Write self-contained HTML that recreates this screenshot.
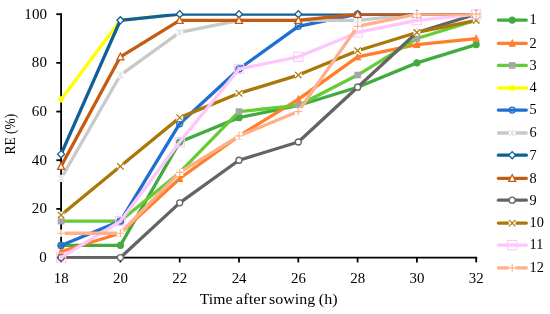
<!DOCTYPE html>
<html><head><meta charset="utf-8"><title>RE chart</title>
<style>html,body{margin:0;padding:0;background:#fff}svg{display:block}</style>
</head><body>
<svg width="550" height="314" viewBox="0 0 550 314">
<rect width="550" height="314" fill="#fff"/>
<defs><clipPath id="pc"><rect x="59.5" y="13.4" width="420" height="245.4"/></clipPath><clipPath id="pc4"><rect x="59.5" y="14.6" width="420" height="244"/></clipPath></defs>
<g stroke="#000" stroke-width="1.8" fill="none" stroke-linecap="butt">
<path d="M61.10 13.30V258.50"/>
<path d="M60.20 257.60H477.10"/>
<path d="M56.30 257.60H61.10"/>
<path d="M56.30 208.92H61.10"/>
<path d="M56.30 160.24H61.10"/>
<path d="M56.30 111.56H61.10"/>
<path d="M56.30 62.88H61.10"/>
<path d="M56.30 14.20H61.10"/>
<path d="M61.10 257.60V262.40"/>
<path d="M120.40 257.60V262.40"/>
<path d="M179.70 257.60V262.40"/>
<path d="M239.00 257.60V262.40"/>
<path d="M298.30 257.60V262.40"/>
<path d="M357.60 257.60V262.40"/>
<path d="M416.90 257.60V262.40"/>
<path d="M476.20 257.60V262.40"/>
</g>
<polyline clip-path="url(#pc)" points="61.10,245.43 120.40,245.43 179.70,141.99 239.00,117.65 298.30,105.48 357.60,87.22 416.90,62.88 476.20,44.62" fill="none" stroke="#41ab3f" stroke-width="3.3" stroke-linejoin="round" stroke-linecap="round"/>
<circle cx="61.10" cy="245.43" r="3.6" fill="#41ab3f"/>
<circle cx="120.40" cy="245.43" r="3.6" fill="#41ab3f"/>
<circle cx="179.70" cy="141.99" r="3.6" fill="#41ab3f"/>
<circle cx="239.00" cy="117.65" r="3.6" fill="#41ab3f"/>
<circle cx="298.30" cy="105.48" r="3.6" fill="#41ab3f"/>
<circle cx="357.60" cy="87.22" r="3.6" fill="#41ab3f"/>
<circle cx="416.90" cy="62.88" r="3.6" fill="#41ab3f"/>
<circle cx="476.20" cy="44.62" r="3.6" fill="#41ab3f"/>
<polyline clip-path="url(#pc)" points="61.10,251.52 120.40,233.26 179.70,178.50 239.00,135.90 298.30,99.39 357.60,56.80 416.90,44.62 476.20,38.54" fill="none" stroke="#ff7f2a" stroke-width="3.3" stroke-linejoin="round" stroke-linecap="round"/>
<path d="M61.10 246.92L64.80 254.92L57.40 254.92Z" fill="#ff7f2a"/>
<path d="M120.40 228.66L124.10 236.66L116.70 236.66Z" fill="#ff7f2a"/>
<path d="M179.70 173.90L183.40 181.90L176.00 181.90Z" fill="#ff7f2a"/>
<path d="M239.00 131.30L242.70 139.30L235.30 139.30Z" fill="#ff7f2a"/>
<path d="M298.30 94.79L302.00 102.79L294.60 102.79Z" fill="#ff7f2a"/>
<path d="M357.60 52.20L361.30 60.20L353.90 60.20Z" fill="#ff7f2a"/>
<path d="M416.90 40.02L420.60 48.02L413.20 48.02Z" fill="#ff7f2a"/>
<path d="M476.20 33.94L479.90 41.94L472.50 41.94Z" fill="#ff7f2a"/>
<polyline clip-path="url(#pc)" points="61.10,221.09 120.40,221.09 179.70,172.41 239.00,111.56 298.30,105.48 357.60,75.05 416.90,38.54 476.20,20.28" fill="none" stroke="#66cc33" stroke-width="3.3" stroke-linejoin="round" stroke-linecap="round"/>
<rect x="57.80" y="217.79" width="6.6" height="6.6" fill="#a5a5a5"/>
<rect x="117.10" y="217.79" width="6.6" height="6.6" fill="#a5a5a5"/>
<rect x="176.40" y="169.11" width="6.6" height="6.6" fill="#a5a5a5"/>
<rect x="235.70" y="108.26" width="6.6" height="6.6" fill="#a5a5a5"/>
<rect x="295.00" y="102.18" width="6.6" height="6.6" fill="#a5a5a5"/>
<rect x="354.30" y="71.75" width="6.6" height="6.6" fill="#a5a5a5"/>
<rect x="413.60" y="35.24" width="6.6" height="6.6" fill="#a5a5a5"/>
<rect x="472.90" y="16.98" width="6.6" height="6.6" fill="#a5a5a5"/>
<polyline clip-path="url(#pc4)" points="61.10,99.39 120.40,20.28 179.70,14.20" fill="none" stroke="#ffff00" stroke-width="3.3" stroke-linejoin="round" stroke-linecap="round"/>
<path d="M61.10 95.69L64.50 99.39L61.10 103.09L57.70 99.39Z" fill="#ffff00"/>
<path d="M120.40 16.58L123.80 20.28L120.40 23.98L117.00 20.28Z" fill="#ffff00"/>
<path d="M179.70 10.50L183.10 14.20L179.70 17.90L176.30 14.20Z" fill="#ffff00"/>
<path d="M239.00 10.50L242.40 14.20L239.00 17.90L235.60 14.20Z" fill="#ffff00"/>
<path d="M298.30 10.50L301.70 14.20L298.30 17.90L294.90 14.20Z" fill="#ffff00"/>
<path d="M357.60 10.50L361.00 14.20L357.60 17.90L354.20 14.20Z" fill="#ffff00"/>
<path d="M416.90 10.50L420.30 14.20L416.90 17.90L413.50 14.20Z" fill="#ffff00"/>
<path d="M476.20 10.50L479.60 14.20L476.20 17.90L472.80 14.20Z" fill="#ffff00"/>
<polyline clip-path="url(#pc)" points="61.10,245.43 120.40,221.09 179.70,123.73 239.00,68.97 298.30,26.37 357.60,14.20 416.90,14.20 476.20,14.20" fill="none" stroke="#1f6fd2" stroke-width="3.3" stroke-linejoin="round" stroke-linecap="round"/>
<circle cx="61.10" cy="245.43" r="3.0" fill="none" stroke="#1f6fd2" stroke-width="1.3"/>
<circle cx="120.40" cy="221.09" r="3.0" fill="none" stroke="#1f6fd2" stroke-width="1.3"/>
<circle cx="179.70" cy="123.73" r="3.0" fill="none" stroke="#1f6fd2" stroke-width="1.3"/>
<circle cx="239.00" cy="68.97" r="3.0" fill="none" stroke="#1f6fd2" stroke-width="1.3"/>
<circle cx="298.30" cy="26.37" r="3.0" fill="none" stroke="#1f6fd2" stroke-width="1.3"/>
<circle cx="357.60" cy="14.20" r="3.0" fill="none" stroke="#1f6fd2" stroke-width="1.3"/>
<circle cx="416.90" cy="14.20" r="3.0" fill="none" stroke="#1f6fd2" stroke-width="1.3"/>
<circle cx="476.20" cy="14.20" r="3.0" fill="none" stroke="#1f6fd2" stroke-width="1.3"/>
<polyline clip-path="url(#pc)" points="61.10,178.50 120.40,75.05 179.70,32.46 239.00,20.28 298.30,20.28 357.60,20.28 416.90,14.20 476.20,14.20" fill="none" stroke="#c9c9c9" stroke-width="3.3" stroke-linejoin="round" stroke-linecap="round"/>
<rect x="57.70" y="175.09" width="6.8" height="6.8" fill="#fff"/><path d="M57.90 175.30L64.30 181.69M57.90 181.69L64.30 175.30M61.10 175.30L61.10 181.69" fill="none" stroke="#e2e2e2" stroke-width="1.1"/>
<rect x="117.00" y="71.65" width="6.8" height="6.8" fill="#fff"/><path d="M117.20 71.85L123.60 78.25M117.20 78.25L123.60 71.85M120.40 71.85L120.40 78.25" fill="none" stroke="#e2e2e2" stroke-width="1.1"/>
<rect x="176.30" y="29.06" width="6.8" height="6.8" fill="#fff"/><path d="M176.50 29.26L182.90 35.66M176.50 35.66L182.90 29.26M179.70 29.26L179.70 35.66" fill="none" stroke="#e2e2e2" stroke-width="1.1"/>
<rect x="235.60" y="16.88" width="6.8" height="6.8" fill="#fff"/><path d="M235.80 17.08L242.20 23.48M235.80 23.48L242.20 17.08M239.00 17.08L239.00 23.48" fill="none" stroke="#e2e2e2" stroke-width="1.1"/>
<rect x="294.90" y="16.88" width="6.8" height="6.8" fill="#fff"/><path d="M295.10 17.08L301.50 23.48M295.10 23.48L301.50 17.08M298.30 17.08L298.30 23.48" fill="none" stroke="#e2e2e2" stroke-width="1.1"/>
<rect x="354.20" y="16.88" width="6.8" height="6.8" fill="#fff"/><path d="M354.40 17.08L360.80 23.48M354.40 23.48L360.80 17.08M357.60 17.08L357.60 23.48" fill="none" stroke="#e2e2e2" stroke-width="1.1"/>
<rect x="413.50" y="10.80" width="6.8" height="6.8" fill="#fff"/><path d="M413.70 11.00L420.10 17.40M413.70 17.40L420.10 11.00M416.90 11.00L416.90 17.40" fill="none" stroke="#e2e2e2" stroke-width="1.1"/>
<rect x="472.80" y="10.80" width="6.8" height="6.8" fill="#fff"/><path d="M473.00 11.00L479.40 17.40M473.00 17.40L479.40 11.00M476.20 11.00L476.20 17.40" fill="none" stroke="#e2e2e2" stroke-width="1.1"/>
<polyline clip-path="url(#pc)" points="61.10,154.16 120.40,20.28 179.70,14.20 239.00,14.20 298.30,14.20 357.60,14.20 416.90,14.20 476.20,14.20" fill="none" stroke="#0f5f99" stroke-width="3.3" stroke-linejoin="round" stroke-linecap="round"/>
<path d="M61.10 150.56L64.60 154.16L61.10 157.76L57.60 154.16Z" fill="#fff" stroke="#0f5f99" stroke-width="1.3"/>
<path d="M120.40 16.68L123.90 20.28L120.40 23.88L116.90 20.28Z" fill="#fff" stroke="#0f5f99" stroke-width="1.3"/>
<path d="M179.70 10.60L183.20 14.20L179.70 17.80L176.20 14.20Z" fill="#fff" stroke="#0f5f99" stroke-width="1.3"/>
<path d="M239.00 10.60L242.50 14.20L239.00 17.80L235.50 14.20Z" fill="#fff" stroke="#0f5f99" stroke-width="1.3"/>
<path d="M298.30 10.60L301.80 14.20L298.30 17.80L294.80 14.20Z" fill="#fff" stroke="#0f5f99" stroke-width="1.3"/>
<path d="M357.60 10.60L361.10 14.20L357.60 17.80L354.10 14.20Z" fill="#fff" stroke="#0f5f99" stroke-width="1.3"/>
<path d="M416.90 10.60L420.40 14.20L416.90 17.80L413.40 14.20Z" fill="#fff" stroke="#0f5f99" stroke-width="1.3"/>
<path d="M476.20 10.60L479.70 14.20L476.20 17.80L472.70 14.20Z" fill="#fff" stroke="#0f5f99" stroke-width="1.3"/>
<polyline clip-path="url(#pc)" points="61.10,166.33 120.40,56.80 179.70,20.28 239.00,20.28 298.30,20.28 357.60,14.20 416.90,14.20 476.20,14.20" fill="none" stroke="#c55a11" stroke-width="3.3" stroke-linejoin="round" stroke-linecap="round"/>
<path d="M61.10 162.73L64.60 169.43L57.60 169.43Z" fill="#fff" stroke="#c55a11" stroke-width="1.3" stroke-linejoin="miter"/>
<path d="M120.40 53.20L123.90 59.90L116.90 59.90Z" fill="#fff" stroke="#c55a11" stroke-width="1.3" stroke-linejoin="miter"/>
<path d="M179.70 16.68L183.20 23.38L176.20 23.38Z" fill="#fff" stroke="#c55a11" stroke-width="1.3" stroke-linejoin="miter"/>
<path d="M239.00 16.68L242.50 23.38L235.50 23.38Z" fill="#fff" stroke="#c55a11" stroke-width="1.3" stroke-linejoin="miter"/>
<path d="M298.30 16.68L301.80 23.38L294.80 23.38Z" fill="#fff" stroke="#c55a11" stroke-width="1.3" stroke-linejoin="miter"/>
<path d="M357.60 10.60L361.10 17.30L354.10 17.30Z" fill="#fff" stroke="#c55a11" stroke-width="1.3" stroke-linejoin="miter"/>
<path d="M416.90 10.60L420.40 17.30L413.40 17.30Z" fill="#fff" stroke="#c55a11" stroke-width="1.3" stroke-linejoin="miter"/>
<path d="M476.20 10.60L479.70 17.30L472.70 17.30Z" fill="#fff" stroke="#c55a11" stroke-width="1.3" stroke-linejoin="miter"/>
<polyline clip-path="url(#pc)" points="61.10,257.60 120.40,257.60 179.70,202.84 239.00,160.24 298.30,141.99 357.60,87.22 416.90,32.46 476.20,14.20" fill="none" stroke="#646464" stroke-width="3.3" stroke-linejoin="round" stroke-linecap="round"/>
<circle cx="61.10" cy="257.60" r="3.0" fill="#fff" stroke="#646464" stroke-width="1.3"/>
<circle cx="120.40" cy="257.60" r="3.0" fill="#fff" stroke="#646464" stroke-width="1.3"/>
<circle cx="179.70" cy="202.84" r="3.0" fill="#fff" stroke="#646464" stroke-width="1.3"/>
<circle cx="239.00" cy="160.24" r="3.0" fill="#fff" stroke="#646464" stroke-width="1.3"/>
<circle cx="298.30" cy="141.99" r="3.0" fill="#fff" stroke="#646464" stroke-width="1.3"/>
<circle cx="357.60" cy="87.22" r="3.0" fill="#fff" stroke="#646464" stroke-width="1.3"/>
<circle cx="416.90" cy="32.46" r="3.0" fill="#fff" stroke="#646464" stroke-width="1.3"/>
<circle cx="476.20" cy="14.20" r="3.0" fill="#fff" stroke="#646464" stroke-width="1.3"/>
<polyline clip-path="url(#pc)" points="61.10,215.01 120.40,166.33 179.70,117.65 239.00,93.31 298.30,75.05 357.60,50.71 416.90,32.46 476.20,20.28" fill="none" stroke="#ab7707" stroke-width="3.3" stroke-linejoin="round" stroke-linecap="round"/>
<rect x="57.70" y="211.61" width="6.8" height="6.8" fill="#fff"/><path d="M57.90 211.81L64.30 218.21M57.90 218.21L64.30 211.81" fill="none" stroke="#ab7707" stroke-width="1.2"/>
<rect x="117.00" y="162.93" width="6.8" height="6.8" fill="#fff"/><path d="M117.20 163.13L123.60 169.53M117.20 169.53L123.60 163.13" fill="none" stroke="#ab7707" stroke-width="1.2"/>
<rect x="176.30" y="114.25" width="6.8" height="6.8" fill="#fff"/><path d="M176.50 114.45L182.90 120.85M176.50 120.85L182.90 114.45" fill="none" stroke="#ab7707" stroke-width="1.2"/>
<rect x="235.60" y="89.91" width="6.8" height="6.8" fill="#fff"/><path d="M235.80 90.11L242.20 96.51M235.80 96.51L242.20 90.11" fill="none" stroke="#ab7707" stroke-width="1.2"/>
<rect x="294.90" y="71.65" width="6.8" height="6.8" fill="#fff"/><path d="M295.10 71.85L301.50 78.25M295.10 78.25L301.50 71.85" fill="none" stroke="#ab7707" stroke-width="1.2"/>
<rect x="354.20" y="47.31" width="6.8" height="6.8" fill="#fff"/><path d="M354.40 47.51L360.80 53.91M354.40 53.91L360.80 47.51" fill="none" stroke="#ab7707" stroke-width="1.2"/>
<rect x="413.50" y="29.06" width="6.8" height="6.8" fill="#fff"/><path d="M413.70 29.26L420.10 35.66M413.70 35.66L420.10 29.26" fill="none" stroke="#ab7707" stroke-width="1.2"/>
<rect x="472.80" y="16.88" width="6.8" height="6.8" fill="#fff"/><path d="M473.00 17.08L479.40 23.48M473.00 23.48L479.40 17.08" fill="none" stroke="#ab7707" stroke-width="1.2"/>
<polyline clip-path="url(#pc)" points="61.10,257.60 120.40,221.09 179.70,141.99 239.00,68.97 298.30,56.80 357.60,32.46 416.90,20.28 476.20,14.20" fill="none" stroke="#ffc6fb" stroke-width="3.3" stroke-linejoin="round" stroke-linecap="round"/>
<rect x="56.50" y="253.00" width="9.2" height="9.2" fill="none" stroke="#ffc6fb" stroke-width="1.1"/>
<rect x="115.80" y="216.49" width="9.2" height="9.2" fill="none" stroke="#ffc6fb" stroke-width="1.1"/>
<rect x="175.10" y="137.39" width="9.2" height="9.2" fill="none" stroke="#ffc6fb" stroke-width="1.1"/>
<rect x="234.40" y="64.37" width="9.2" height="9.2" fill="none" stroke="#ffc6fb" stroke-width="1.1"/>
<rect x="293.70" y="52.20" width="9.2" height="9.2" fill="none" stroke="#ffc6fb" stroke-width="1.1"/>
<rect x="353.00" y="27.86" width="9.2" height="9.2" fill="none" stroke="#ffc6fb" stroke-width="1.1"/>
<rect x="412.30" y="15.68" width="9.2" height="9.2" fill="none" stroke="#ffc6fb" stroke-width="1.1"/>
<rect x="471.60" y="9.60" width="9.2" height="9.2" fill="none" stroke="#ffc6fb" stroke-width="1.1"/>
<polyline clip-path="url(#pc)" points="61.10,233.26 120.40,233.26 179.70,172.41 239.00,135.90 298.30,111.56 357.60,26.37 416.90,14.20 476.20,14.20" fill="none" stroke="#ffb088" stroke-width="3.3" stroke-linejoin="round" stroke-linecap="round"/>
<rect x="57.60" y="229.76" width="7" height="7" fill="#fff"/><path d="M57.40 233.26L64.80 233.26M61.10 229.56L61.10 236.96" fill="none" stroke="#ffb088" stroke-width="1.2"/>
<rect x="116.90" y="229.76" width="7" height="7" fill="#fff"/><path d="M116.70 233.26L124.10 233.26M120.40 229.56L120.40 236.96" fill="none" stroke="#ffb088" stroke-width="1.2"/>
<rect x="176.20" y="168.91" width="7" height="7" fill="#fff"/><path d="M176.00 172.41L183.40 172.41M179.70 168.71L179.70 176.11" fill="none" stroke="#ffb088" stroke-width="1.2"/>
<rect x="235.50" y="132.40" width="7" height="7" fill="#fff"/><path d="M235.30 135.90L242.70 135.90M239.00 132.20L239.00 139.60" fill="none" stroke="#ffb088" stroke-width="1.2"/>
<rect x="294.80" y="108.06" width="7" height="7" fill="#fff"/><path d="M294.60 111.56L302.00 111.56M298.30 107.86L298.30 115.26" fill="none" stroke="#ffb088" stroke-width="1.2"/>
<rect x="354.10" y="22.87" width="7" height="7" fill="#fff"/><path d="M353.90 26.37L361.30 26.37M357.60 22.67L357.60 30.07" fill="none" stroke="#ffb088" stroke-width="1.2"/>
<rect x="413.40" y="10.70" width="7" height="7" fill="#fff"/><path d="M413.20 14.20L420.60 14.20M416.90 10.50L416.90 17.90" fill="none" stroke="#ffb088" stroke-width="1.2"/>
<rect x="472.70" y="10.70" width="7" height="7" fill="#fff"/><path d="M472.50 14.20L479.90 14.20M476.20 10.50L476.20 17.90" fill="none" stroke="#ffb088" stroke-width="1.2"/>
<g font-family="'Liberation Serif', serif" fill="#000">
<g font-size="14.3" text-anchor="end">
<text x="46.9" y="261.90" textLength="7.51" lengthAdjust="spacingAndGlyphs">0</text>
<text x="46.9" y="213.22" textLength="15.02" lengthAdjust="spacingAndGlyphs">20</text>
<text x="46.9" y="164.54" textLength="15.02" lengthAdjust="spacingAndGlyphs">40</text>
<text x="46.9" y="115.86" textLength="15.02" lengthAdjust="spacingAndGlyphs">60</text>
<text x="46.9" y="67.18" textLength="15.02" lengthAdjust="spacingAndGlyphs">80</text>
<text x="46.9" y="18.50" textLength="22.52" lengthAdjust="spacingAndGlyphs">100</text>
</g>
<g font-size="14.3" text-anchor="middle">
<text x="61.20" y="283.4" textLength="14.87" lengthAdjust="spacingAndGlyphs">18</text>
<text x="120.50" y="283.4" textLength="14.87" lengthAdjust="spacingAndGlyphs">20</text>
<text x="179.80" y="283.4" textLength="14.87" lengthAdjust="spacingAndGlyphs">22</text>
<text x="239.10" y="283.4" textLength="14.87" lengthAdjust="spacingAndGlyphs">24</text>
<text x="298.40" y="283.4" textLength="14.87" lengthAdjust="spacingAndGlyphs">26</text>
<text x="357.70" y="283.4" textLength="14.87" lengthAdjust="spacingAndGlyphs">28</text>
<text x="417.00" y="283.4" textLength="14.87" lengthAdjust="spacingAndGlyphs">30</text>
<text x="476.30" y="283.4" textLength="14.87" lengthAdjust="spacingAndGlyphs">32</text>
</g>
<text x="199.8" y="304.3" font-size="15.5" textLength="32.6" lengthAdjust="spacingAndGlyphs">Time</text>
<text x="235.8" y="304.3" font-size="15.5" textLength="30.4" lengthAdjust="spacingAndGlyphs">after</text>
<text x="269.0" y="304.3" font-size="15.5" textLength="46.2" lengthAdjust="spacingAndGlyphs">sowing</text>
<text x="318.8" y="304.3" font-size="15.5" textLength="18.8" lengthAdjust="spacingAndGlyphs">(h)</text>
<text transform="translate(15.1 134.2) rotate(-90)" font-size="15.5" text-anchor="middle" textLength="40.6" lengthAdjust="spacingAndGlyphs">RE (%)</text>
<g font-size="14.3">
<text x="529.6" y="24.40">1</text>
<text x="529.6" y="47.60">2</text>
<text x="529.6" y="69.70">3</text>
<text x="529.6" y="92.30">4</text>
<text x="529.6" y="114.40">5</text>
<text x="529.6" y="137.30">6</text>
<text x="529.6" y="159.50">7</text>
<text x="529.6" y="182.60">8</text>
<text x="529.6" y="204.50">9</text>
<text x="529.6" y="227.40">10</text>
<text x="529.6" y="249.40">11</text>
<text x="529.6" y="272.20">12</text>
</g>
</g>
<path d="M498.4 20.10H526.3" stroke="#41ab3f" stroke-width="3.3" stroke-linecap="round" fill="none"/>
<circle cx="512.20" cy="20.10" r="3.6" fill="#41ab3f"/>
<path d="M498.4 43.30H526.3" stroke="#ff7f2a" stroke-width="3.3" stroke-linecap="round" fill="none"/>
<path d="M512.20 38.70L515.90 46.70L508.50 46.70Z" fill="#ff7f2a"/>
<path d="M498.4 65.40H526.3" stroke="#66cc33" stroke-width="3.3" stroke-linecap="round" fill="none"/>
<rect x="508.90" y="62.10" width="6.6" height="6.6" fill="#a5a5a5"/>
<path d="M498.4 88.00H526.3" stroke="#ffff00" stroke-width="3.3" stroke-linecap="round" fill="none"/>
<path d="M512.20 84.30L515.60 88.00L512.20 91.70L508.80 88.00Z" fill="#ffff00"/>
<path d="M498.4 110.10H526.3" stroke="#1f6fd2" stroke-width="3.3" stroke-linecap="round" fill="none"/>
<circle cx="512.20" cy="110.10" r="3.0" fill="none" stroke="#1f6fd2" stroke-width="1.3"/>
<path d="M498.4 133.00H526.3" stroke="#c9c9c9" stroke-width="3.3" stroke-linecap="round" fill="none"/>
<rect x="508.80" y="129.60" width="6.8" height="6.8" fill="#fff"/><path d="M509.00 129.80L515.40 136.20M509.00 136.20L515.40 129.80M512.20 129.80L512.20 136.20" fill="none" stroke="#e2e2e2" stroke-width="1.1"/>
<path d="M498.4 155.20H526.3" stroke="#0f5f99" stroke-width="3.3" stroke-linecap="round" fill="none"/>
<path d="M512.20 151.60L515.70 155.20L512.20 158.80L508.70 155.20Z" fill="#fff" stroke="#0f5f99" stroke-width="1.3"/>
<path d="M498.4 178.30H526.3" stroke="#c55a11" stroke-width="3.3" stroke-linecap="round" fill="none"/>
<path d="M512.20 174.70L515.70 181.40L508.70 181.40Z" fill="#fff" stroke="#c55a11" stroke-width="1.3" stroke-linejoin="miter"/>
<path d="M498.4 200.20H526.3" stroke="#646464" stroke-width="3.3" stroke-linecap="round" fill="none"/>
<circle cx="512.20" cy="200.20" r="3.0" fill="#fff" stroke="#646464" stroke-width="1.3"/>
<path d="M498.4 223.10H526.3" stroke="#ab7707" stroke-width="3.3" stroke-linecap="round" fill="none"/>
<rect x="508.80" y="219.70" width="6.8" height="6.8" fill="#fff"/><path d="M509.00 219.90L515.40 226.30M509.00 226.30L515.40 219.90" fill="none" stroke="#ab7707" stroke-width="1.2"/>
<path d="M498.4 245.10H526.3" stroke="#ffc6fb" stroke-width="3.3" stroke-linecap="round" fill="none"/>
<rect x="507.60" y="240.50" width="9.2" height="9.2" fill="none" stroke="#ffc6fb" stroke-width="1.1"/>
<path d="M498.4 267.90H526.3" stroke="#ffb088" stroke-width="3.3" stroke-linecap="round" fill="none"/>
<rect x="508.70" y="264.40" width="7" height="7" fill="#fff"/><path d="M508.50 267.90L515.90 267.90M512.20 264.20L512.20 271.60" fill="none" stroke="#ffb088" stroke-width="1.2"/>
</svg>
</body></html>
